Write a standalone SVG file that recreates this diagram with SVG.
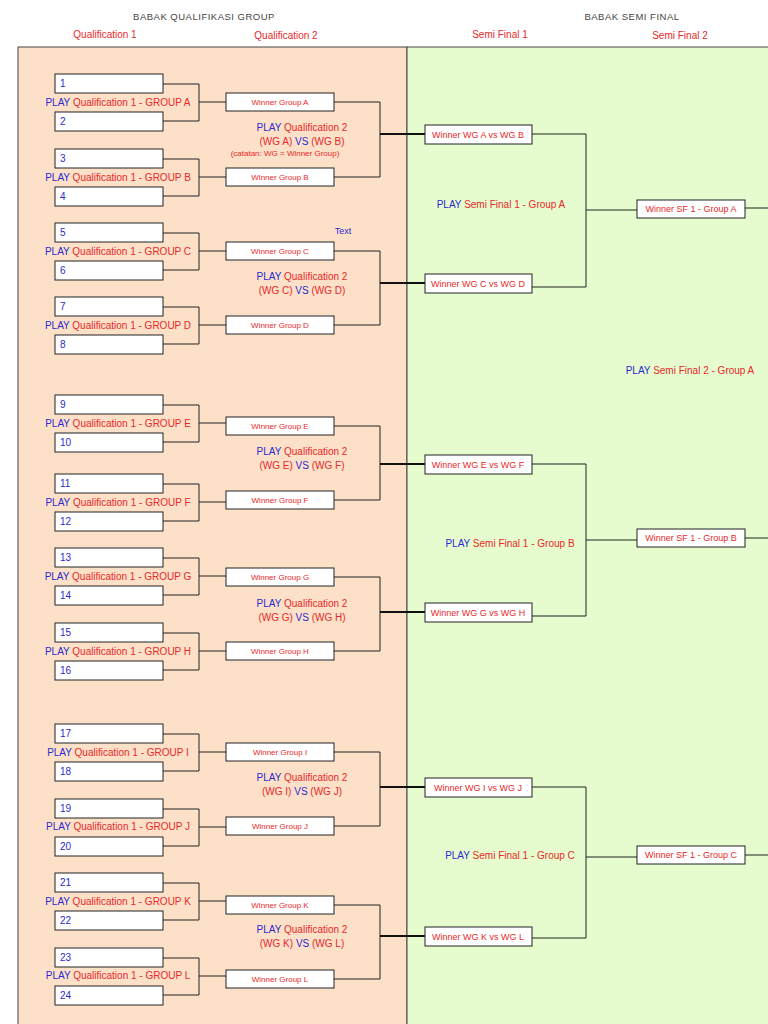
<svg xmlns="http://www.w3.org/2000/svg" width="768" height="1024" viewBox="0 0 768 1024">
<style>
text{font-family:"Liberation Sans",Arial,sans-serif;font-size:10px}
.h{fill:#444;font-size:9.5px;letter-spacing:0.5px}
.r{fill:#e8282a}
.b{fill:#2a2ad0}
.s{font-size:8px}
.bx{fill:#fff;stroke:#222;stroke-width:1}
.ln{fill:none;stroke:#222;stroke-width:1}
.tk{fill:none;stroke:#111;stroke-width:2}
</style>
<rect x="18" y="47" width="389" height="990" fill="#fde0c8" stroke="#444"/>
<rect x="407" y="47" width="370" height="990" fill="#e6fcce" stroke="#444"/>
<g id="headers" text-anchor="middle">
<text class="h" x="204" y="20">BABAK QUALIFIKASI GROUP</text>
<text class="h" x="632" y="20">BABAK SEMI FINAL</text>
<text class="r" x="105" y="38">Qualification 1</text>
<text class="r" x="286" y="39">Qualification 2</text>
<text class="r" x="500" y="38">Semi Final 1</text>
<text class="r" x="680" y="39">Semi Final 2</text>
<text class="b" x="343" y="234" style="font-size:9px">Text</text>
</g>
<g id="connectors">
<path class="ln" d="M163 84H199V121H163M199 102H226"/>
<path class="ln" d="M163 159H199V196H163M199 177H226"/>
<path class="ln" d="M163 233H199V270H163M199 251H226"/>
<path class="ln" d="M163 307H199V344H163M199 325H226"/>
<path class="ln" d="M163 405H199V442H163M199 423H226"/>
<path class="ln" d="M163 484H199V521H163M199 502H226"/>
<path class="ln" d="M163 558H199V595H163M199 576H226"/>
<path class="ln" d="M163 633H199V670H163M199 651H226"/>
<path class="ln" d="M163 734H199V771H163M199 752H226"/>
<path class="ln" d="M163 809H199V846H163M199 827H226"/>
<path class="ln" d="M163 883H199V920H163M199 901H226"/>
<path class="ln" d="M163 958H199V995H163M199 976H226"/>
<path class="ln" d="M334 102H380V177H334"/><path class="tk" d="M380 134H425"/>
<path class="ln" d="M334 251H380V325H334"/><path class="tk" d="M380 283H425"/>
<path class="ln" d="M334 426H380V500H334"/><path class="tk" d="M380 464H425"/>
<path class="ln" d="M334 577H380V651H334"/><path class="tk" d="M380 612H425"/>
<path class="ln" d="M334 752H380V826H334"/><path class="tk" d="M380 787H425"/>
<path class="ln" d="M334 905H380V979H334"/><path class="tk" d="M380 936H425"/>
<path class="ln" d="M532 134H586V287H532M586 210H637M745 208H768"/>
<path class="ln" d="M532 464H586V616H532M586 540H637M745 538H768"/>
<path class="ln" d="M532 787H586V938H532M586 857H637M745 855H768"/>
</g>
<g id="q1">
<rect class="bx" x="55" y="74" width="108" height="19"/><text class="b" x="60" y="87">1</text>
<rect class="bx" x="55" y="112" width="108" height="19"/><text class="b" x="60" y="125">2</text>
<rect class="bx" x="55" y="149" width="108" height="19"/><text class="b" x="60" y="162">3</text>
<rect class="bx" x="55" y="187" width="108" height="19"/><text class="b" x="60" y="200">4</text>
<rect class="bx" x="55" y="223" width="108" height="19"/><text class="b" x="60" y="236">5</text>
<rect class="bx" x="55" y="261" width="108" height="19"/><text class="b" x="60" y="274">6</text>
<rect class="bx" x="55" y="297" width="108" height="19"/><text class="b" x="60" y="310">7</text>
<rect class="bx" x="55" y="335" width="108" height="19"/><text class="b" x="60" y="348">8</text>
<rect class="bx" x="55" y="395" width="108" height="19"/><text class="b" x="60" y="408">9</text>
<rect class="bx" x="55" y="433" width="108" height="19"/><text class="b" x="60" y="446">10</text>
<rect class="bx" x="55" y="474" width="108" height="19"/><text class="b" x="60" y="487">11</text>
<rect class="bx" x="55" y="512" width="108" height="19"/><text class="b" x="60" y="525">12</text>
<rect class="bx" x="55" y="548" width="108" height="19"/><text class="b" x="60" y="561">13</text>
<rect class="bx" x="55" y="586" width="108" height="19"/><text class="b" x="60" y="599">14</text>
<rect class="bx" x="55" y="623" width="108" height="19"/><text class="b" x="60" y="636">15</text>
<rect class="bx" x="55" y="661" width="108" height="19"/><text class="b" x="60" y="674">16</text>
<rect class="bx" x="55" y="724" width="108" height="19"/><text class="b" x="60" y="737">17</text>
<rect class="bx" x="55" y="762" width="108" height="19"/><text class="b" x="60" y="775">18</text>
<rect class="bx" x="55" y="799" width="108" height="19"/><text class="b" x="60" y="812">19</text>
<rect class="bx" x="55" y="837" width="108" height="19"/><text class="b" x="60" y="850">20</text>
<rect class="bx" x="55" y="873" width="108" height="19"/><text class="b" x="60" y="886">21</text>
<rect class="bx" x="55" y="911" width="108" height="19"/><text class="b" x="60" y="924">22</text>
<rect class="bx" x="55" y="948" width="108" height="19"/><text class="b" x="60" y="961">23</text>
<rect class="bx" x="55" y="986" width="108" height="19"/><text class="b" x="60" y="999">24</text>
</g>
<g id="q1labels" text-anchor="middle">
<text x="118" y="106"><tspan class="b">PLAY </tspan><tspan class="r">Qualification 1 - GROUP A</tspan></text>
<text x="118" y="181"><tspan class="b">PLAY </tspan><tspan class="r">Qualification 1 - GROUP B</tspan></text>
<text x="118" y="255"><tspan class="b">PLAY </tspan><tspan class="r">Qualification 1 - GROUP C</tspan></text>
<text x="118" y="329"><tspan class="b">PLAY </tspan><tspan class="r">Qualification 1 - GROUP D</tspan></text>
<text x="118" y="427"><tspan class="b">PLAY </tspan><tspan class="r">Qualification 1 - GROUP E</tspan></text>
<text x="118" y="506"><tspan class="b">PLAY </tspan><tspan class="r">Qualification 1 - GROUP F</tspan></text>
<text x="118" y="580"><tspan class="b">PLAY </tspan><tspan class="r">Qualification 1 - GROUP G</tspan></text>
<text x="118" y="655"><tspan class="b">PLAY </tspan><tspan class="r">Qualification 1 - GROUP H</tspan></text>
<text x="118" y="756"><tspan class="b">PLAY </tspan><tspan class="r">Qualification 1 - GROUP I</tspan></text>
<text x="118" y="830"><tspan class="b">PLAY </tspan><tspan class="r">Qualification 1 - GROUP J</tspan></text>
<text x="118" y="905"><tspan class="b">PLAY </tspan><tspan class="r">Qualification 1 - GROUP K</tspan></text>
<text x="118" y="979"><tspan class="b">PLAY </tspan><tspan class="r">Qualification 1 - GROUP L</tspan></text>
</g>
<g id="q2" text-anchor="middle">
<rect class="bx" x="226" y="93" width="108" height="18"/><text class="r s" x="280" y="105">Winner Group A</text>
<rect class="bx" x="226" y="168" width="108" height="18"/><text class="r s" x="280" y="180">Winner Group B</text>
<rect class="bx" x="226" y="242" width="108" height="18"/><text class="r s" x="280" y="254">Winner Group C</text>
<rect class="bx" x="226" y="316" width="108" height="18"/><text class="r s" x="280" y="328">Winner Group D</text>
<rect class="bx" x="226" y="417" width="108" height="18"/><text class="r s" x="280" y="429">Winner Group E</text>
<rect class="bx" x="226" y="491" width="108" height="18"/><text class="r s" x="280" y="503">Winner Group F</text>
<rect class="bx" x="226" y="568" width="108" height="18"/><text class="r s" x="280" y="580">Winner Group G</text>
<rect class="bx" x="226" y="642" width="108" height="18"/><text class="r s" x="280" y="654">Winner Group H</text>
<rect class="bx" x="226" y="743" width="108" height="18"/><text class="r s" x="280" y="755">Winner Group I</text>
<rect class="bx" x="226" y="817" width="108" height="18"/><text class="r s" x="280" y="829">Winner Group J</text>
<rect class="bx" x="226" y="896" width="108" height="18"/><text class="r s" x="280" y="908">Winner Group K</text>
<rect class="bx" x="226" y="970" width="108" height="18"/><text class="r s" x="280" y="982">Winner Group L</text>
</g>
<g id="q2labels" text-anchor="middle">
<text x="302" y="131"><tspan class="b">PLAY </tspan><tspan class="r">Qualification 2</tspan></text>
<text x="302" y="145"><tspan class="r">(WG A) </tspan><tspan class="b">VS </tspan><tspan class="r">(WG B)</tspan></text>
<text class="r s" x="285" y="156">(catatan: WG = Winner Group)</text>
<text x="302" y="280"><tspan class="b">PLAY </tspan><tspan class="r">Qualification 2</tspan></text>
<text x="302" y="294"><tspan class="r">(WG C) </tspan><tspan class="b">VS </tspan><tspan class="r">(WG D)</tspan></text>
<text x="302" y="455"><tspan class="b">PLAY </tspan><tspan class="r">Qualification 2</tspan></text>
<text x="302" y="469"><tspan class="r">(WG E) </tspan><tspan class="b">VS </tspan><tspan class="r">(WG F)</tspan></text>
<text x="302" y="607"><tspan class="b">PLAY </tspan><tspan class="r">Qualification 2</tspan></text>
<text x="302" y="621"><tspan class="r">(WG G) </tspan><tspan class="b">VS </tspan><tspan class="r">(WG H)</tspan></text>
<text x="302" y="781"><tspan class="b">PLAY </tspan><tspan class="r">Qualification 2</tspan></text>
<text x="302" y="795"><tspan class="r">(WG I) </tspan><tspan class="b">VS </tspan><tspan class="r">(WG J)</tspan></text>
<text x="302" y="933"><tspan class="b">PLAY </tspan><tspan class="r">Qualification 2</tspan></text>
<text x="302" y="947"><tspan class="r">(WG K) </tspan><tspan class="b">VS </tspan><tspan class="r">(WG L)</tspan></text>
</g>
<g id="sf1" text-anchor="middle">
<rect class="bx" x="425" y="125" width="107" height="19"/><text class="r" x="478" y="138" style="font-size:9px">Winner WG A vs WG B</text>
<rect class="bx" x="425" y="274" width="107" height="19"/><text class="r" x="478" y="287" style="font-size:9px">Winner WG C vs WG D</text>
<rect class="bx" x="425" y="455" width="107" height="19"/><text class="r" x="478" y="468" style="font-size:9px">Winner WG E vs WG F</text>
<rect class="bx" x="425" y="603" width="107" height="19"/><text class="r" x="478" y="616" style="font-size:9px">Winner WG G vs WG H</text>
<rect class="bx" x="425" y="778" width="107" height="19"/><text class="r" x="478" y="791" style="font-size:9px">Winner WG I vs WG J</text>
<rect class="bx" x="425" y="927" width="107" height="19"/><text class="r" x="478" y="940" style="font-size:9px">Winner WG K vs WG L</text>
<text x="501" y="208"><tspan class="b">PLAY </tspan><tspan class="r">Semi Final 1 - Group A</tspan></text>
<text x="510" y="547"><tspan class="b">PLAY </tspan><tspan class="r">Semi Final 1 - Group B</tspan></text>
<text x="510" y="859"><tspan class="b">PLAY </tspan><tspan class="r">Semi Final 1 - Group C</tspan></text>
</g>
<g id="sf2" text-anchor="middle">
<rect class="bx" x="637" y="200" width="108" height="18"/><text class="r" x="691" y="212" style="font-size:9px">Winner SF 1 - Group A</text>
<rect class="bx" x="637" y="529" width="108" height="18"/><text class="r" x="691" y="541" style="font-size:9px">Winner  SF 1 - Group B</text>
<rect class="bx" x="637" y="846" width="108" height="18"/><text class="r" x="691" y="858" style="font-size:9px">Winner SF 1 - Group C</text>
<text x="690" y="374"><tspan class="b">PLAY </tspan><tspan class="r">Semi Final 2 - Group A</tspan></text>
</g>
</svg>
